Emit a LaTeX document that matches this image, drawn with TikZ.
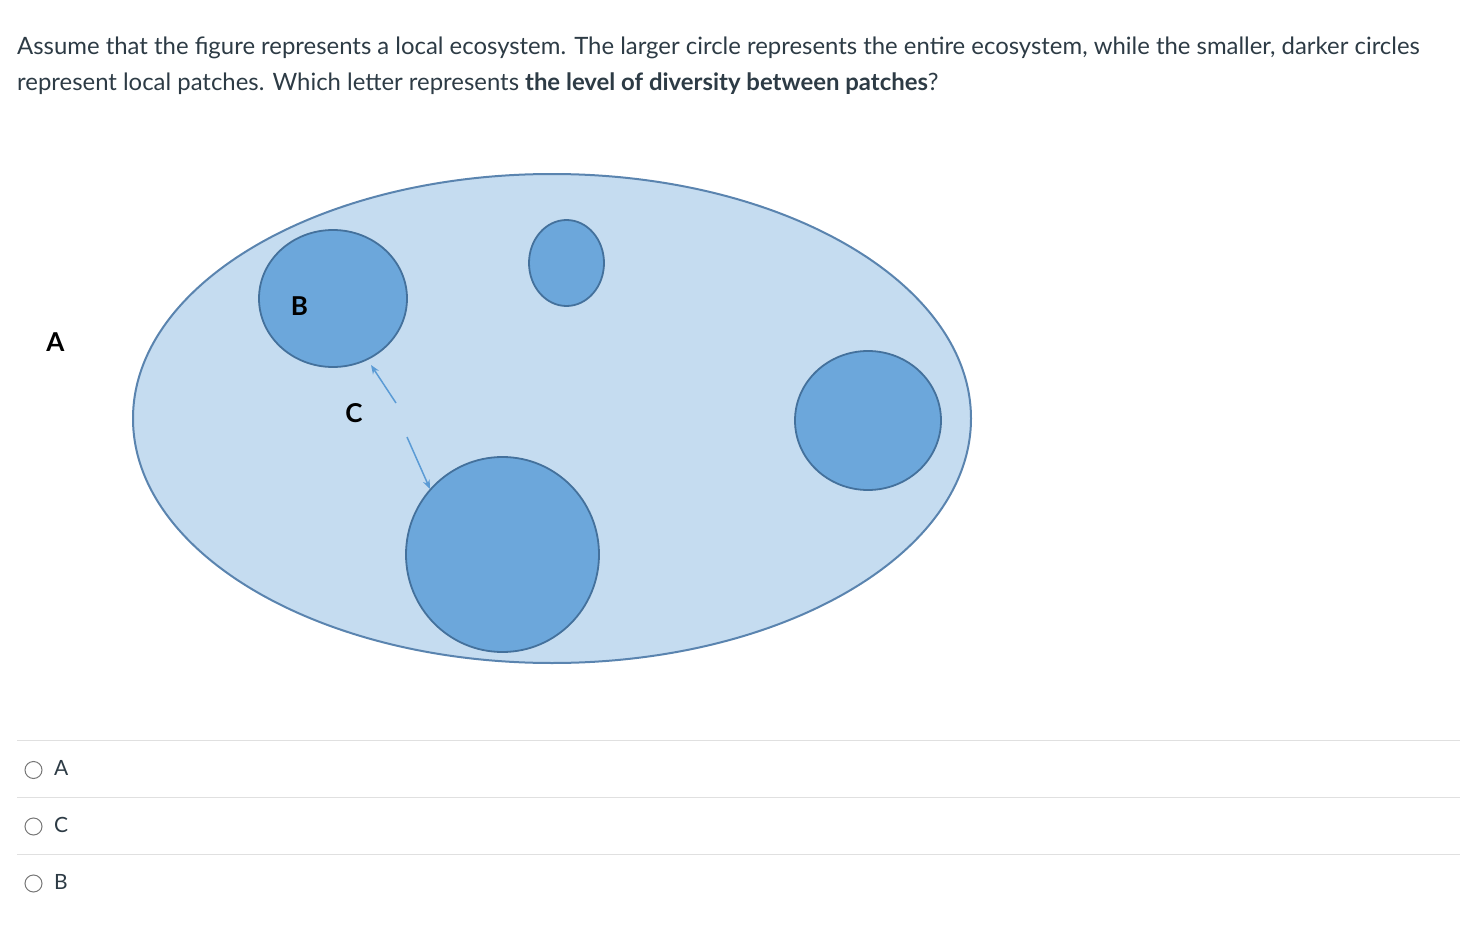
\documentclass[tikz,border=0pt]{standalone}
\usepackage{fontspec}
\setmainfont{Lato}
\usetikzlibrary{arrows.meta}
\definecolor{txt}{HTML}{2D3B45}
\definecolor{ecofill}{HTML}{C5DCF0}
\definecolor{ecodraw}{HTML}{5A84AF}
\definecolor{patchfill}{HTML}{6CA7DB}
\definecolor{patchdraw}{HTML}{44719C}
\definecolor{arrowc}{HTML}{5B9BD5}
\definecolor{sepc}{HTML}{E0E0E0}
\definecolor{radioc}{HTML}{777777}
\tikzset{
  eco/.style={fill=ecofill,draw=ecodraw,line width=2pt},
  patch/.style={fill=patchfill,draw=patchdraw,line width=1.8pt},
  lab/.style={font=\fontsize{26}{30}\selectfont\bfseries,text=black,inner sep=0pt},
  qtext/.style={font=\fontsize{23.9}{28}\selectfont,text=txt,inner sep=0pt,anchor=base west},
  opt/.style={font=\fontsize{21}{24}\selectfont,text=txt,inner sep=0pt,anchor=west},
  radio/.style={circle,draw=radioc,line width=1pt,minimum size=17pt,inner sep=0pt},
  sep/.style={draw=sepc,line width=1pt},
  parrow/.style={draw=arrowc,line width=1.5pt,-{Stealth[length=9pt,width=7pt]}}
}
\begin{document}
\begin{tikzpicture}[x=1pt,y=-1pt]
\useasboundingbox (0,0) rectangle (1460,934);
\node[qtext] (q1) at (17,55) {Assume that the figure represents a local ecosystem. The larger circle represents the entire ecosystem, while the smaller, darker circles};
\node[qtext] (q2) at (17,91) {represent local patches. Which letter represents \textbf{the level of diversity between patches}?};
% ecosystem
\path[eco] (552,418.5) ellipse [x radius=419, y radius=244.5];
\path[patch] (333,298.5) ellipse [x radius=74, y radius=68.5];
\path[patch] (566.5,263) ellipse [x radius=37.5, y radius=43];
\path[patch] (868,420.5) ellipse [x radius=73, y radius=69.5];
\path[patch] (502.5,554.5) ellipse [x radius=96.5, y radius=97.5];
\node[lab] (B) at (299.5,306) {B};
\node[lab] (C) at (354,413) {C};
\node[lab] (A) at (55.5,342) {A};
\coordinate (a1s) at (396,403);
\coordinate (a1e) at (371,365);
\coordinate (a2s) at (407,437);
\coordinate (a2e) at (430,489);
\draw[parrow] (a1s) -- (a1e);
\draw[parrow] (a2s) -- (a2e);
% options
\coordinate (s1a) at (17,740); \coordinate (s1b) at (1460,740);
\coordinate (s2a) at (17,797); \coordinate (s2b) at (1460,797);
\coordinate (s3a) at (17,854); \coordinate (s3b) at (1460,854);
\draw[sep] (s1a) -- (s1b);
\draw[sep] (s2a) -- (s2b);
\draw[sep] (s3a) -- (s3b);
\node[radio] (r1) at (33.5,770) {};
\node[radio] (r2) at (33.5,826.5) {};
\node[radio] (r3) at (33.5,883.5) {};
\node[opt] (o1) at (54,768) {A};
\node[opt] (o2) at (54,825) {C};
\node[opt] (o3) at (54,882) {B};
\end{tikzpicture}
\end{document}
